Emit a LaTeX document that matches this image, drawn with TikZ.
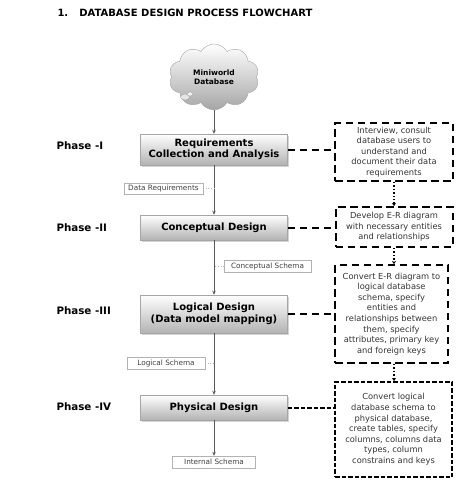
\documentclass[tikz,border=0pt]{standalone}
\usepackage{fontspec}
\setmainfont{DejaVu Sans}
\usetikzlibrary{shapes.symbols,shapes.geometric,arrows.meta,calc,shadows}
\begin{document}
\begin{tikzpicture}[x=1pt,y=-1pt,
  phasebox/.style={draw=gray!70, top color=white, bottom color=gray!60, minimum width=147pt, inner sep=1pt, align=center, font=\fontsize{10}{11.5}\selectfont\bfseries, drop shadow={opacity=0.35, shadow xshift=1pt, shadow yshift=-1.5pt}},
  lbl/.style={draw=gray!60, fill=white, inner sep=0pt, font=\fontsize{7.3}{8}\selectfont, text=black!75},
  notebox/.style={draw=black, line width=2pt, dash pattern=on 7.5pt off 4.5pt, inner sep=1pt, align=center, font=\fontsize{8.3}{10.6}\selectfont, text=black!80},
  densebox/.style={notebox, dash pattern=on 4.5pt off 2pt},
  phaselbl/.style={font=\fontsize{10.3}{12}\selectfont\bfseries, anchor=west},
  flow/.style={draw=black!65, line width=0.8pt, -{Stealth[length=4pt,width=3.5pt]}},
  lnk/.style={draw=gray!60, dotted, line width=0.6pt},
  dsh/.style={draw=black, line width=2pt, dash pattern=on 7.5pt off 4.5pt},
  densedsh/.style={dsh, dash pattern=on 4.5pt off 2pt},
  dot/.style={draw=black, line width=1.4pt, dotted, -{Stealth[length=3pt,width=4pt]}}
]
\useasboundingbox (0,0) rectangle (474,491);
\node[anchor=west, font=\fontsize{10}{12}\selectfont\bfseries] (title) at (54,13) {1.\hspace{11pt}DATABASE DESIGN PROCESS FLOWCHART};

\node[cloud, cloud puffs=10, cloud puff arc=120, aspect=1.35, draw=gray!70, top color=white, bottom color=gray!70, minimum width=90pt, minimum height=66pt, inner sep=0pt, align=center, font=\fontsize{7.5}{9}\selectfont\bfseries] (cloud) at (214,77) {Miniworld\\Database};
\node[ellipse, draw=gray!70, fill=gray!20, minimum width=9pt, minimum height=6pt, inner sep=0pt] (bub1) at (185,97) {};
\node[ellipse, draw=gray!70, fill=gray!10, minimum width=6pt, minimum height=4pt, inner sep=0pt] (bub2) at (190,94) {};

\node[phasebox, minimum height=31pt] (req) at (214,149.5) {Requirements\\Collection and Analysis};
\node[phasebox, minimum height=25pt] (con) at (214,227.5) {Conceptual Design};
\node[phasebox, minimum height=38pt] (log) at (214,314) {Logical Design\\(Data model mapping)};
\node[phasebox, minimum height=25pt] (phy) at (214,407.5) {Physical Design};

\node[lbl, minimum width=79pt, minimum height=11pt] (dreq) at (163.5,188.5) {Data Requirements};
\node[lbl, minimum width=87pt, minimum height=12pt] (csch) at (267.5,266) {Conceptual Schema};
\node[lbl, minimum width=78pt, minimum height=12pt] (lsch) at (166,363) {Logical Schema};
\node[lbl, minimum width=83pt, minimum height=12pt] (isch) at (214,462) {Internal Schema};

\draw[flow] (cloud.south) -- (req.north);
\draw[flow] (req.south) -- (con.north);
\draw[flow] (con.south) -- (log.north);
\draw[flow] (log.south) -- (phy.north);
\draw[flow] (phy.south) -- (isch.north);

\draw[lnk] (dreq.east) -- (dreq.east -| req.south);
\draw[lnk] (csch.west) -- (csch.west -| con.south);
\draw[lnk] (lsch.east) -- (lsch.east -| log.south);

\node[phaselbl] (p1) at (53,146) {Phase -I};
\node[phaselbl] (p2) at (53,228) {Phase -II};
\node[phaselbl] (p3) at (53,311) {Phase -III};
\node[phaselbl] (p4) at (53,407) {Phase -IV};

\node[notebox, minimum width=118pt, minimum height=58pt] (b1) at (394,152) {Interview, consult\\database users to\\understand and\\document their data\\requirements};
\node[notebox, minimum width=117pt, minimum height=40pt] (b2) at (394,227) {Develop E-R diagram\\with necessary entities\\and relationships};
\node[notebox, minimum width=113pt, minimum height=98pt] (b3) at (391.5,314) {Convert E-R diagram to\\logical database\\schema, specify\\entities and\\relationships between\\them, specify\\attributes, primary key\\and foreign keys};
\node[densebox, minimum width=117pt, minimum height=95pt] (b4) at (393.5,429.5) {Convert logical\\database schema to\\physical database,\\create tables, specify\\columns, columns data\\types, column\\constrains and keys};

\draw[dsh] (req.east) -- (req.east -| b1.west);
\draw[dsh] (con.east) -- (con.east -| b2.west);
\draw[dsh] (log.east) -- (log.east -| b3.west);
\draw[densedsh] (phy.east) -- (phy.east -| b4.west);

\draw[dot] (b1.south) -- (b1.south |- b2.north);
\draw[dot] (b2.south) -- (b2.south |- b3.north);
\draw[dot] (b3.south -| b2.south) -- (b2.south |- b4.north);
\end{tikzpicture}
\end{document}
